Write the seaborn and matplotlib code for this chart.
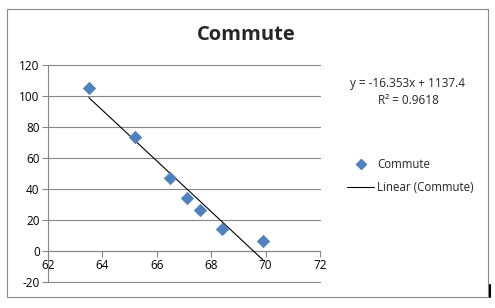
import matplotlib
matplotlib.use("Agg")
import matplotlib.pyplot as plt
from matplotlib.patches import Rectangle
from matplotlib.lines import Line2D
import seaborn as sns
import numpy as np
import pandas as pd

x_vals = [63.5, 65.2, 66.5, 67.1, 67.6, 68.4, 69.9]
y_vals = [105.0, 73.5, 47.0, 34.0, 26.5, 14.0, 6.5]
slope = -16.353
intercept = 1137.4
r2 = 0.9618
x_ticks = [62, 64, 66, 68, 70, 72]
y_ticks = [-20, 0, 20, 40, 60, 80, 100, 120]

sns.set_theme(style="white")
plt.rcParams['font.family'] = ['Open Sans', 'DejaVu Sans']
plt.rcParams['axes.unicode_minus'] = False

df = pd.DataFrame({"x": x_vals, "y": y_vals})
xl = [min(x_vals), max(x_vals)]
trend = pd.DataFrame({"x": xl, "y": [slope * v + intercept for v in xl]})

fig = plt.figure(figsize=(4.95, 3.08), dpi=100)
ax = fig.add_axes([48/495, 1-282/308, (320-48)/495, (282-65)/308])

blue = "#4F81BD"
sns.lineplot(data=trend, x="x", y="y", ax=ax, color="black", linewidth=0.8, zorder=3)
sns.scatterplot(data=df, x="x", y="y", ax=ax, marker="D", s=40, color=blue,
                edgecolor=blue, linewidth=0.5, zorder=4)

ax.set_xlim(62, 72)
ax.set_ylim(-20, 120)
ax.set_xticks(x_ticks)
ax.set_yticks(y_ticks)
ax.set_xlabel("")
ax.set_ylabel("")
ax.yaxis.grid(True, color="#868686", linewidth=0.8)
for gl in ax.yaxis.get_gridlines():
    gl.set_clip_on(False)
ax.xaxis.grid(False)
for s in ["top", "right"]:
    ax.spines[s].set_visible(False)
ax.spines["bottom"].set_position(("data", 0))
ax.spines["bottom"].set_color("#868686")
ax.spines["left"].set_color("#868686")
ax.spines["bottom"].set_linewidth(0.8)
ax.spines["left"].set_linewidth(0.8)
ax.tick_params(axis="both", which="both", direction="out", length=4, width=0.8,
               color="#868686", labelsize=8.5, labelcolor="black", pad=2)
ax.tick_params(axis="x", bottom=True)
ax.tick_params(axis="y", left=True)

fig.text(246/495, 1-35/308, "Commute", ha="center", va="center",
         fontsize=14.5, fontweight="bold")

fig.text(408/495, 1-84/308, f"y = {slope}x + {intercept}", ha="center",
         va="center", fontsize=8.5)
fig.text(408/495, 1-100/308, f"R\u00b2 = {r2}", ha="center", va="center",
         fontsize=8.5)

handles = [
    Line2D([], [], marker="D", linestyle="none", color=blue, markersize=5),
    Line2D([], [], color="black", linewidth=0.8),
]
fig.legend(handles, ["Commute", "Linear (Commute)"], loc="upper left",
           bbox_to_anchor=(337/495, 1-148/308), frameon=False, fontsize=8.3,
           handlelength=2.3, handletextpad=0.3, labelspacing=0.85)

fig.patches.append(Rectangle((7/495, 1-297/308), (488-7)/495, (297-9)/308,
                             transform=fig.transFigure, fill=False,
                             edgecolor="#888888", linewidth=0.8))
fig.add_artist(Line2D([490/495, 490/495], [1-297/308, 1-285/308],
                      transform=fig.transFigure, color="black", linewidth=1.5))

fig.savefig("out.png", dpi=100)
